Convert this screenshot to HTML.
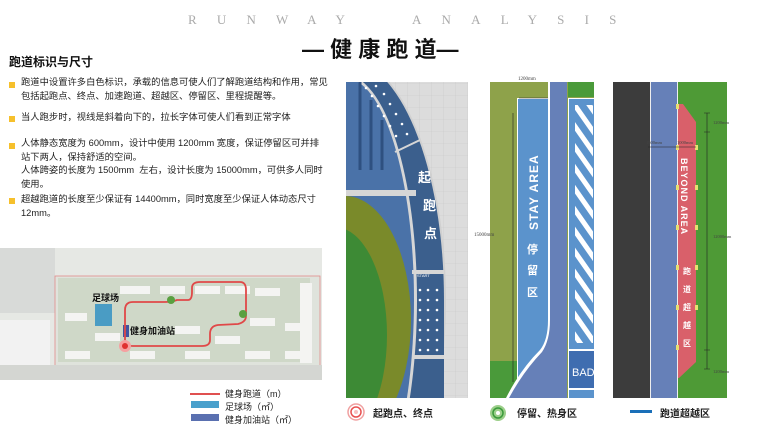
<!DOCTYPE html>
<html><head><meta charset="utf-8"><style>
html,body{margin:0;padding:0;background:#fff;overflow:hidden;}
body{width:760px;height:434px;position:relative;overflow:hidden;font-family:"Liberation Sans","Noto Sans CJK SC",sans-serif;}
.a{position:absolute;white-space:nowrap;}
.t{font-size:9.3px;color:#222;line-height:13.5px;}
.b{position:absolute;width:6px;height:6px;background:#f6c02c;left:9px;}
</style></head><body>
<div class="a" style="left:188px;top:12px;font-family:'Liberation Serif',serif;font-size:13px;color:#aaa;letter-spacing:20.2px;">RUNWAY&nbsp;&nbsp;ANALYSIS</div>
<div class="a" style="left:302px;top:32px;font-size:22px;font-weight:bold;color:#111;">— 健 康 跑 道—</div>
<div class="a" style="left:9px;top:53px;font-size:12px;font-weight:bold;color:#111;">跑道标识与尺寸</div>

<div class="b" style="top:82px"></div>
<div class="a t" style="left:21px;top:76px;">跑道中设置许多白色标识，承载的信息可使人们了解跑道结构和作用，常见<br>包括起跑点、终点、加速跑道、超越区、停留区、里程提醒等。</div>
<div class="b" style="top:116px"></div>
<div class="a t" style="left:21px;top:111px;">当人跑步时，视线是斜着向下的，拉长字体可使人们看到正常字体</div>
<div class="b" style="top:143px"></div>
<div class="a t" style="left:21px;top:137px;">人体静态宽度为 600mm，设计中使用 1200mm 宽度，保证停留区可并排<br>站下两人，保持舒适的空间。<br>人体跨姿的长度为 1500mm&nbsp; 左右，设计长度为 15000mm，可供多人同时<br>使用。</div>
<div class="b" style="top:198px"></div>
<div class="a t" style="left:21px;top:193px;">超越跑道的长度至少保证有 14400mm，同时宽度至少保证人体动态尺寸<br>12mm。</div>

<!-- map -->
<svg class="a" style="left:0;top:248px" width="322" height="132" viewBox="0 0 322 132">
<rect width="322" height="132" fill="#e6e8e4"/>
<rect x="0" y="0" width="55" height="65" fill="#d8dad8"/>
<rect x="0" y="72" width="50" height="45" fill="#f2f2f2"/>
<rect x="55" y="28" width="265" height="90" fill="#dfe3dc" stroke="#e08a8a" stroke-width="0.8"/>
<rect x="58" y="30" width="252" height="84" fill="#cfd8c8"/>
<g fill="#f4f4f2">
<rect x="120" y="38" width="30" height="8"/><rect x="160" y="38" width="25" height="8"/><rect x="195" y="38" width="25" height="8"/><rect x="225" y="38" width="25" height="8"/><rect x="255" y="40" width="25" height="8"/>
<rect x="65" y="65" width="22" height="8"/><rect x="95" y="85" width="25" height="8"/><rect x="175" y="78" width="25" height="8"/><rect x="215" y="88" width="25" height="8"/><rect x="250" y="70" width="25" height="8"/><rect x="285" y="75" width="25" height="8"/>
<rect x="65" y="103" width="25" height="8"/><rect x="130" y="103" width="25" height="8"/><rect x="185" y="103" width="25" height="8"/><rect x="245" y="103" width="25" height="8"/><rect x="285" y="103" width="25" height="8"/>
<rect x="300" y="35" width="12" height="80"/>
</g>
<rect x="0" y="117" width="322" height="15" fill="#d4d6d2"/>
<rect x="95" y="56" width="17" height="22" fill="#4a9cc4"/>
<rect x="123" y="77" width="6" height="12" fill="#4055a0"/>
<path d="M125 95 L125 62 Q125 54 133 54 L165 54 Q172 54 177 52 L188 52 Q192 52 192 44 L192 40 Q192 34 200 34 L240 34 Q246 34 246 42 L246 68 Q246 74 238 76 L218 77 Q210 78 210 86 L210 92 Q210 98 202 98 L133 98 Q125 98 125 95Z" fill="none" stroke="#e04848" stroke-width="1.8"/>
<circle cx="125" cy="98" r="6" fill="#f5a0a0"/><circle cx="125" cy="98" r="3" fill="#e03030"/>
<circle cx="171" cy="52" r="4" fill="#5aa040"/><circle cx="243" cy="66" r="4" fill="#5aa040"/>
<text x="92" y="53" font-size="9" font-weight="bold" fill="#111">足球场</text>
<text x="130" y="86" font-size="9" font-weight="bold" fill="#111">健身加油站</text>
</svg>
<div class="a" style="left:190px;top:393px;width:30px;height:2px;background:#e05050"></div>
<div class="a" style="left:191px;top:401px;width:28px;height:7px;background:#4aa0cc"></div>
<div class="a" style="left:191px;top:414px;width:28px;height:7px;background:#5a70b0"></div>
<div class="a" style="left:225px;top:388px;font-size:9px;color:#222;line-height:13px;">健身跑道（m）<br>足球场（㎡）<br>健身加油站（㎡）</div>

<!-- panel 1 -->
<svg class="a" style="left:346px;top:82px" width="122" height="316" viewBox="346 82 122 316">
<defs><clipPath id="c1"><rect x="346" y="82" width="122" height="316"/></clipPath>
<pattern id="g" width="12" height="12" patternUnits="userSpaceOnUse"><rect width="12" height="12" fill="#dcdcdc"/><path d="M12 0V12H0" fill="none" stroke="#c8c8c8" stroke-width="0.6"/></pattern></defs>
<g clip-path="url(#c1)">
<rect x="346" y="82" width="122" height="316" fill="url(#g)"/>
<ellipse cx="345" cy="300" rx="101" ry="243" fill="#d0d0d0"/>
<ellipse cx="345" cy="300" rx="99" ry="241" fill="#3b5f8d"/>
<rect x="413" y="300" width="31" height="100" fill="#3b5f8d"/>
<ellipse cx="345" cy="300" rx="72" ry="225" fill="#d6d6d6"/>
<ellipse cx="345" cy="300" rx="69" ry="222" fill="#4a72a8"/>
<rect x="346" y="190" width="70" height="6" fill="#d6d6d6"/>
<path d="M360 82V170M371 100V170M382 120V170" stroke="#2e5080" stroke-width="3"/>
<ellipse cx="345" cy="320" rx="66" ry="124" fill="#7a8a2a"/>
<ellipse cx="335" cy="335" rx="52" ry="108" fill="#3d8a35"/>
<rect x="346" y="193" width="70" height="3" fill="#d6d6d6"/>
<rect x="412" y="270" width="32" height="4" fill="#d6d6d6"/>
<rect x="413" y="355" width="31" height="4" fill="#d6d6d6"/>
<path d="M395 152 L420 140" stroke="#d6d6d6" stroke-width="2"/>
<g fill="#fff">
<circle cx="366" cy="88" r="1.3"/><circle cx="376" cy="86" r="1.3"/><circle cx="372" cy="96" r="1.3"/><circle cx="384" cy="94" r="1.3"/><circle cx="378" cy="106" r="1.3"/><circle cx="390" cy="104" r="1.3"/><circle cx="384" cy="116" r="1.3"/><circle cx="396" cy="114" r="1.3"/><circle cx="390" cy="126" r="1.3"/><circle cx="402" cy="124" r="1.3"/><circle cx="396" cy="136" r="1.3"/><circle cx="407" cy="134" r="1.3"/>
<circle cx="420" cy="290" r="1.3"/><circle cx="428" cy="290" r="1.3"/><circle cx="437" cy="290" r="1.3"/>
<circle cx="420" cy="300" r="1.3"/><circle cx="428" cy="300" r="1.3"/><circle cx="437" cy="300" r="1.3"/>
<circle cx="420" cy="310" r="1.3"/><circle cx="428" cy="310" r="1.3"/><circle cx="437" cy="310" r="1.3"/>
<circle cx="420" cy="320" r="1.3"/><circle cx="428" cy="320" r="1.3"/><circle cx="437" cy="320" r="1.3"/>
<circle cx="420" cy="330" r="1.3"/><circle cx="428" cy="330" r="1.3"/><circle cx="437" cy="330" r="1.3"/>
<circle cx="420" cy="340" r="1.3"/><circle cx="428" cy="340" r="1.3"/><circle cx="437" cy="340" r="1.3"/>
<circle cx="420" cy="350" r="1.3"/><circle cx="428" cy="350" r="1.3"/><circle cx="437" cy="350" r="1.3"/>
</g>
<text x="417" y="277" font-size="4" fill="#fff">START</text>
<text x="418" y="182" font-size="13" font-weight="bold" fill="#fff">起</text>
<text x="423" y="210" font-size="13" font-weight="bold" fill="#fff">跑</text>
<text x="424" y="238" font-size="13" font-weight="bold" fill="#fff">点</text>
</g></svg>

<!-- panel 2 -->
<svg class="a" style="left:490px;top:82px" width="104" height="316" viewBox="490 82 104 316">
<defs><clipPath id="c2"><rect x="490" y="82" width="104" height="316"/></clipPath>
<pattern id="st" width="12" height="12" patternUnits="userSpaceOnUse" patternTransform="rotate(-35)"><rect width="12" height="12" fill="#5b93cc"/><rect width="5" height="12" fill="#fff"/></pattern></defs>
<g clip-path="url(#c2)">
<rect x="490" y="82" width="104" height="316" fill="#8ea24a"/>
<rect x="490" y="361" width="30" height="37" fill="#4a9a3a"/>
<rect x="568" y="82" width="26" height="15" fill="#4a9a3a"/>
<rect x="517" y="98" width="32" height="300" fill="#fff"/>
<rect x="518" y="99" width="30" height="299" fill="#5b93cc"/>
<path d="M548 82 L567 82 L567 398 L506 398 Q520 370 540 350 Q548 340 548 320Z" fill="#fff"/>
<path d="M550 82 L567 82 L567 398 L509 398 Q523 372 542 352 Q550 340 550 320Z" fill="#6680b8"/>
<rect x="568" y="98" width="26" height="300" fill="#fff"/>
<rect x="569" y="99" width="25" height="250" fill="#5b93cc"/>
<rect x="575" y="105" width="18" height="238" fill="url(#st)"/>
<rect x="569" y="351" width="25" height="37" fill="#3f6db0"/>
<rect x="569" y="390" width="25" height="8" fill="#5b93cc"/>
<text x="572" y="376" font-size="11" fill="#fff">BAD</text>
<text transform="translate(538,230) rotate(-90)" font-size="12" font-weight="bold" fill="#fff" letter-spacing="1">STAY AREA</text>
<text x="527" y="253" font-size="11" font-weight="bold" fill="#fff">停</text>
<text x="527" y="274" font-size="11" font-weight="bold" fill="#fff">留</text>
<text x="527" y="296" font-size="11" font-weight="bold" fill="#fff">区</text>
<path d="M513 113V382" stroke="#222" stroke-width="0.6"/>
<path d="M519 98H548" stroke="#222" stroke-width="0.6"/>
</g>
</svg>
<div class="a" style="left:518px;top:77px;font-size:5px;color:#444;font-family:'Liberation Serif',serif;">1200mm</div>
<div class="a" style="left:474px;top:233px;font-size:5px;color:#444;font-family:'Liberation Serif',serif;">15000mm</div>

<!-- panel 3 -->
<svg class="a" style="left:613px;top:82px" width="147" height="316" viewBox="613 82 147 316">
<rect x="613" y="82" width="37" height="316" fill="#3c3c3c"/>
<rect x="650" y="82" width="28" height="316" fill="#eee"/>
<rect x="651" y="82" width="26" height="316" fill="#6680b8"/>
<rect x="678" y="82" width="49" height="316" fill="#4e9a36"/>
<path d="M678 104 L683 104 L696 122 L696 362 L679 378 L678 378Z" fill="#d9606a"/>
<g fill="#e8e070"><rect x="676" y="104" width="3" height="5"/><rect x="676" y="145" width="3" height="5"/><rect x="676" y="185" width="3" height="5"/><rect x="676" y="225" width="3" height="5"/><rect x="676" y="265" width="3" height="5"/><rect x="676" y="305" width="3" height="5"/><rect x="676" y="345" width="3" height="5"/>
<rect x="695" y="145" width="3" height="5"/><rect x="695" y="185" width="3" height="5"/><rect x="695" y="225" width="3" height="5"/><rect x="695" y="265" width="3" height="5"/><rect x="695" y="305" width="3" height="5"/></g>
<text transform="translate(681,158) rotate(90)" font-size="9" font-weight="bold" fill="#fff" letter-spacing="1">BEYOND AREA</text>
<g font-size="8" font-weight="bold" fill="#fff"><text x="683" y="274">跑</text><text x="683" y="292">道</text><text x="683" y="310">超</text><text x="683" y="328">越</text><text x="683" y="346">区</text></g>
<path d="M648 147H696" stroke="#222" stroke-width="0.6"/>
<path d="M707 113V369M704 113H710M704 132H710M704 350H710M704 369H710" stroke="#222" stroke-width="0.6"/>
<text x="713" y="124" font-size="4.5" fill="#444" font-family="Liberation Serif">1200mm</text>
<text x="713" y="238" font-size="4.5" fill="#444" font-family="Liberation Serif">12000mm</text>
<text x="713" y="373" font-size="4.5" fill="#444" font-family="Liberation Serif">1200mm</text>
<text x="646" y="144" font-size="4.5" fill="#444" font-family="Liberation Serif">1500mm</text>
<text x="677" y="144" font-size="4.5" fill="#444" font-family="Liberation Serif">1000mm</text>
</svg>

<!-- bottom legends -->
<svg class="a" style="left:346px;top:402px" width="22" height="22"><circle cx="10" cy="10" r="8" fill="none" stroke="#f0a0a0" stroke-width="1.5"/><circle cx="10" cy="10" r="5" fill="none" stroke="#e85050" stroke-width="1.5"/><circle cx="10" cy="10" r="2" fill="#f8c0c0"/></svg>
<div class="a" style="left:373px;top:405px;font-size:10px;font-weight:bold;color:#222;">起跑点、终点</div>
<svg class="a" style="left:488px;top:403px" width="22" height="22"><circle cx="10" cy="10" r="8" fill="#9ccf8a"/><circle cx="10" cy="10" r="5" fill="none" stroke="#3a9a3a" stroke-width="1.5"/><circle cx="10" cy="10" r="2" fill="#fff"/></svg>
<div class="a" style="left:517px;top:405px;font-size:10px;font-weight:bold;color:#222;">停留、热身区</div>
<div class="a" style="left:630px;top:410px;width:22px;height:3px;background:#1a6fb8"></div>
<div class="a" style="left:660px;top:405px;font-size:10px;font-weight:bold;color:#222;">跑道超越区</div>
</body></html>
